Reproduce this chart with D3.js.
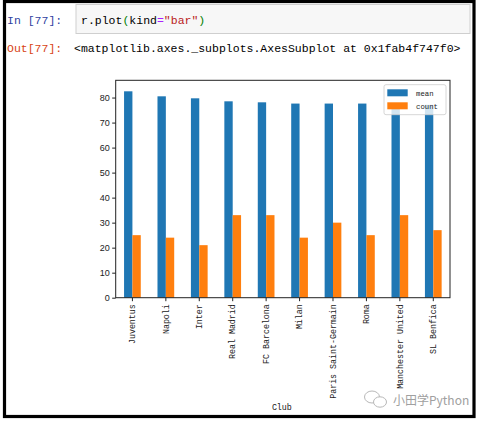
<!DOCTYPE html>
<html>
<head>
<meta charset="utf-8">
<script src="https://cdn.jsdelivr.net/npm/d3@7"></script>
<style>
  body { margin: 0; background: #fff; }
  svg { display: block; }
</style>
</head>
<body>
<svg width="483" height="423"></svg>
<script>
// data
const clubs = ["Juventus", "Napoli", "Inter", "Real Madrid", "FC Barcelona", "Milan",
               "Paris Saint-Germain", "Roma", "Manchester United", "SL Benfica"];
const meanValues = [82.5, 80.5, 79.7, 78.5, 78.1, 77.6, 77.6, 77.6, 77.2, 77.1];
const countValues = [25, 24, 21, 33, 33, 24, 30, 25, 33, 27];
const yTicks = [0, 10, 20, 30, 40, 50, 60, 70, 80];
const seriesNames = ["mean", "count"];
const seriesColors = ["#1f77b4", "#ff7f0e"];

const mono = "'Liberation Mono', 'DejaVu Sans Mono', monospace";
const narrow = "'Liberation Sans Narrow', 'Liberation Sans', sans-serif";

const svg = d3.select("svg");

const drawNotebook = () => {
    // outer black frame of the screenshot
    svg.append("rect").attr("x", 4.5).attr("y", 1.5).attr("width", 469.5).attr("height", 415)
       .attr("fill", "none").attr("stroke", "#000").attr("stroke-width", 3.2);

    // input cell box
    svg.append("rect").attr("x", 76).attr("y", 4.5).attr("width", 394).attr("height", 29)
       .attr("fill", "#f7f7f7").attr("stroke", "#cfcfcf").attr("stroke-width", 1);

    svg.append("text").attr("x", 7).attr("y", 24)
       .style("font-family", mono).style("font-size", "11.5px").attr("fill", "#303F9F")
       .text("In  [77]:");

    const code = svg.append("text").attr("x", 81).attr("y", 24)
       .style("font-family", mono).style("font-size", "11.5px");
    code.append("tspan").attr("fill", "#000").text("r.plot");
    code.append("tspan").attr("fill", "#008000").text("(");
    code.append("tspan").attr("fill", "#000").text("kind");
    code.append("tspan").attr("fill", "#AA22FF").text("=");
    code.append("tspan").attr("fill", "#BA2121").text("\"bar\"");
    code.append("tspan").attr("fill", "#008000").text(")");

    svg.append("text").attr("x", 7).attr("y", 52)
       .style("font-family", mono).style("font-size", "11.5px").attr("fill", "#D84315")
       .text("Out[77]:");
    svg.append("text").attr("x", 74).attr("y", 52)
       .style("font-family", mono).style("font-size", "11.5px").attr("fill", "#000")
       .text("<matplotlib.axes._subplots.AxesSubplot at 0x1fab4f747f0>");
}

const drawChart = () => {
    const area = { left: 115.7, right: 450, top: 80.3, bottom: 297.7 };

    const scaleX = d3.scaleBand()
                     .domain(clubs)
                     .range([area.left, area.right])
                     .padding(0);
    const scaleY = d3.scaleLinear()
                     .domain([0, 86.9])
                     .range([area.bottom, area.top]);

    const barWidth = scaleX.bandwidth() / 4;
    const series = [meanValues, countValues];

    series.forEach((vals, i) => {
        svg.append("g").selectAll("rect")
           .data(clubs)
           .enter()
           .append("rect")
           .attr("x", (d, j) => scaleX(d) + scaleX.bandwidth() / 2 - barWidth + i * barWidth)
           .attr("y", (d, j) => scaleY(vals[j]))
           .attr("width", barWidth)
           .attr("height", (d, j) => scaleY(0) - scaleY(vals[j]))
           .attr("fill", seriesColors[i]);
    });

    // frame
    svg.append("rect")
       .attr("x", area.left).attr("y", area.top)
       .attr("width", area.right - area.left).attr("height", area.bottom - area.top)
       .attr("fill", "none").attr("stroke", "#222").attr("stroke-width", 1);

    const axisY = d3.axisLeft(scaleY).tickValues(yTicks).tickSize(3.5).tickPadding(2.5);
    const gy = svg.append("g").attr("transform", `translate(${area.left},0)`).call(axisY);
    gy.select(".domain").remove();
    gy.selectAll("line").attr("stroke", "#222");
    gy.selectAll("text").style("font-family", narrow).style("font-size", "9px").attr("fill", "#222");

    const axisX = d3.axisBottom(scaleX).tickSize(3.5).tickPadding(2.5);
    const gx = svg.append("g").attr("transform", `translate(0,${area.bottom})`).call(axisX);
    gx.select(".domain").remove();
    gx.selectAll("line").attr("stroke", "#222");
    gx.selectAll("text")
      .style("font-family", mono).style("font-size", "8.3px").attr("fill", "#222")
      .style("text-anchor", "end")
      .attr("x", -6.5).attr("y", 0).attr("dy", "0.32em")
      .attr("transform", "rotate(-90)");

    svg.append("text").attr("x", (area.left + area.right) / 2 - 1).attr("y", 410)
       .attr("text-anchor", "middle")
       .style("font-family", mono).style("font-size", "8.3px").attr("fill", "#222")
       .text("Club");

    // legend
    const lg = svg.append("g").attr("transform", "translate(384,84.7)");
    lg.append("rect").attr("width", 62).attr("height", 30).attr("rx", 2)
      .attr("fill", "#fff").attr("fill-opacity", 0.8).attr("stroke", "#ccc").attr("stroke-width", 0.8);
    seriesNames.forEach((name, i) => {
        lg.append("rect").attr("x", 3.3).attr("y", 4.6 + i * 13).attr("width", 20.4).attr("height", 7)
          .attr("fill", seriesColors[i]);
        lg.append("text").attr("x", 32).attr("y", 11 + i * 13)
          .style("font-family", mono).style("font-size", "7.3px").attr("fill", "#222")
          .text(name);
    });
}

const drawWatermark = () => {
    const wm = svg.append("g").attr("fill", "none").attr("stroke", "#b8b8b8").attr("stroke-width", 1);
    wm.append("ellipse").attr("cx", 372).attr("cy", 397).attr("rx", 7.5).attr("ry", 6);
    wm.append("ellipse").attr("cx", 380).attr("cy", 402).attr("rx", 6.5).attr("ry", 5.2)
      .attr("fill", "#fff");
    svg.append("text").attr("x", 393).attr("y", 405)
       .style("font-family", "'Noto Sans CJK SC', sans-serif").style("font-size", "12px")
       .attr("fill", "#a0a0a0")
       .text("小田学Python");
}

drawNotebook();
drawChart();
drawWatermark();
</script>
</body>
</html>
